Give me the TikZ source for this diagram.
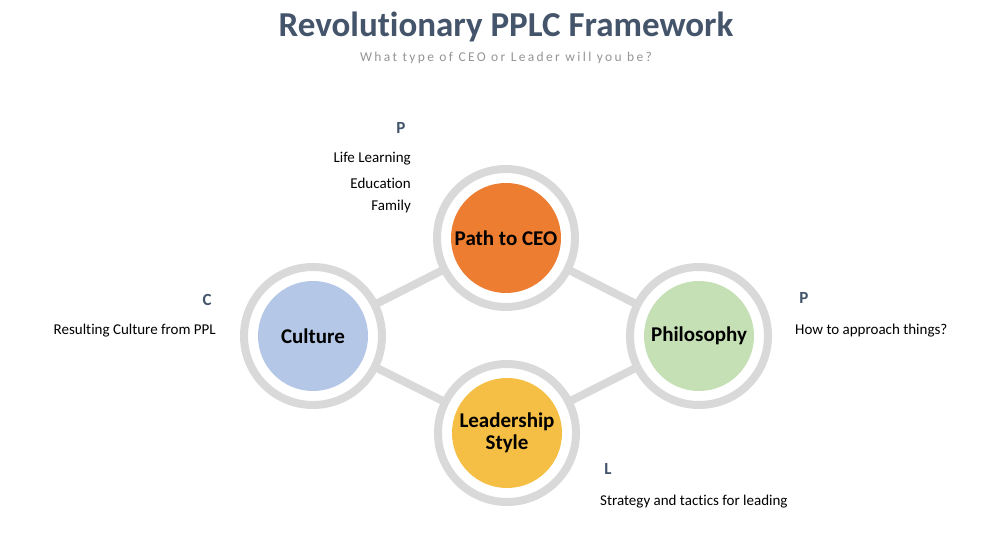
\documentclass[tikz,border=0pt]{standalone}
\usepackage{fontspec}
\setmainfont{Carlito}[Ligatures=NoCommon]
\usepackage{tikz}
\usetikzlibrary{shapes,arrows}

\definecolor{slate}{HTML}{44546A}
\definecolor{ringgray}{HTML}{D9D9D9}
\definecolor{subgray}{HTML}{959595}
\definecolor{pathorange}{HTML}{ED7D31}
\definecolor{cultblue}{HTML}{B4C7E7}
\definecolor{philgreen}{HTML}{C5E0B4}
\definecolor{leadyellow}{HTML}{F5BF45}

\begin{document}
\begin{tikzpicture}[x=1pt,y=1pt,
  ring/.style={circle,draw=ringgray,line width=8pt,fill=white,minimum size=138pt,inner sep=0pt},
  core/.style={circle,minimum size=110pt,inner sep=0pt,align=center,font=\fontsize{21}{22.5}\selectfont\bfseries},
  link/.style={ringgray,line width=8pt,shorten <=-5pt,shorten >=-5pt},
  letter/.style={font=\fontsize{17}{19}\selectfont\bfseries,text=slate},
  note/.style={font=\fontsize{15}{18}\selectfont,inner sep=0pt}]
  \useasboundingbox[fill=white] (0,0) rectangle (1008,540);
  % title
  \node[font=\fontsize{35}{40}\selectfont\bfseries,text=slate] (title) at (506,513) {Revolutionary PPLC Framework};
  \node[font=\fontsize{13.5}{15}\selectfont\addfontfeature{LetterSpace=17.5},text=subgray] (subtitle) at (506,482) {What type of CEO or Leader will you be?};
  % rings
  \node[ring] (pathR) at (506,302) {};
  \node[ring] (cultR) at (313,204) {};
  \node[ring] (philR) at (699,204) {};
  \node[ring] (leadR) at (507,107) {};
  \draw[link] (cultR) -- (pathR);
  \draw[link] (pathR) -- (philR);
  \draw[link] (cultR) -- (leadR);
  \draw[link] (leadR) -- (philR);
  % circles
  \node[core,fill=pathorange] (path) at (pathR) {Path to CEO};
  \node[core,fill=cultblue] (cult) at (cultR) {Culture};
  \node[core,fill=philgreen] (phil) at (philR) {Philosophy};
  \node[core,fill=leadyellow] (lead) at (leadR) {Leadership\\Style};
  % notes
  \node[letter] (pathL) at (401,412) {P};
  \node[note,anchor=east] (pathA) at (411,381) {Life Learning};
  \node[note,anchor=east] (pathB) at (411,357) {Education};
  \node[note,anchor=east] (pathC) at (411,333) {Family};
  \node[letter] (cultL) at (207,240) {C};
  \node[note,anchor=east] (cultA) at (216,209) {Resulting Culture from PPL};
  \node[letter] (philL) at (804,242) {P};
  \node[note,anchor=west] (philA) at (795,209) {How to approach things?};
  \node[letter] (leadL) at (608,71) {L};
  \node[note,anchor=west] (leadA) at (600,38) {Strategy and tactics for leading};
\end{tikzpicture}
\end{document}
